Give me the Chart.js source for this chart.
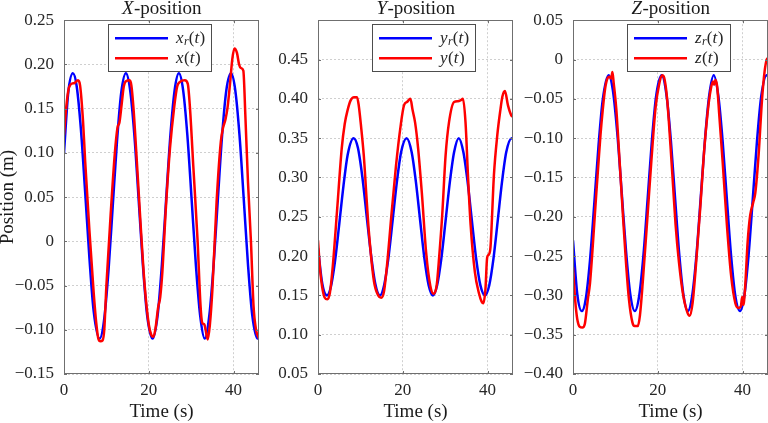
<!DOCTYPE html>
<html>
<head>
<meta charset="utf-8">
<script src="https://cdn.jsdelivr.net/npm/chart.js@4.4.1/dist/chart.umd.min.js"></script>
<style>
html,body{margin:0;padding:0;background:#fff;}
#wrap{position:relative;width:768px;height:423px;overflow:hidden;background:#fff;}
canvas{position:absolute;top:0;}
</style>
</head>
<body>
<div id="wrap">
<canvas id="c0" width="262" height="423" style="left:0px;width:262px;height:423px"></canvas>
<canvas id="c1" width="254" height="423" style="left:262px;width:254px;height:423px"></canvas>
<canvas id="c2" width="252" height="423" style="left:516px;width:252px;height:423px"></canvas>
</div>
<script>
// ---------- DATA ----------
// time axis ticks
const xTicks = [0, 20, 40];
const xTickLabels = ['0', '20', '40'];

// y ticks per subplot
const yTicksX = [-0.15, -0.10, -0.05, 0, 0.05, 0.10, 0.15, 0.20, 0.25];
const yTickLabelsX = ['\u22120.15', '\u22120.10', '\u22120.05', '0', '0.05', '0.10', '0.15', '0.20', '0.25'];
const yTicksY = [0.05, 0.10, 0.15, 0.20, 0.25, 0.30, 0.35, 0.40, 0.45];
const yTickLabelsY = ['0.05', '0.10', '0.15', '0.20', '0.25', '0.30', '0.35', '0.40', '0.45'];
const yTicksZ = [-0.40, -0.35, -0.30, -0.25, -0.20, -0.15, -0.10, -0.05, 0, 0.05];
const yTickLabelsZ = ['\u22120.40', '\u22120.35', '\u22120.30', '\u22120.25', '\u22120.20', '\u22120.15', '\u22120.10', '\u22120.05', '0', '0.05'];

// reference trajectories (blue)
const timeRef = [0,1,2.1,3,4,5,6,7,8.4,9.4,10.5,11.5,12.5,13.5,14.6,15.6,16.6,17.6,18.6,19.6,20.9,22.1,23.1,24.1,25.1,26.1,27.1,28.1,29.1,30.1,31.1,32.1,33.2,34.3,35.3,36.3,37.3,38.3,39.4,40.4,41.4,42.4,43.4,44.4,45.7,46];
const xRef = [0.100,0.168,0.190,0.175,0.126,0.055,-0.019,-0.079,-0.110,-0.091,-0.033,0.040,0.113,0.168,0.190,0.171,0.120,0.048,-0.026,-0.083,-0.110,-0.083,-0.026,0.048,0.120,0.171,0.190,0.171,0.120,0.048,-0.026,-0.083,-0.110,-0.083,-0.026,0.048,0.120,0.171,0.190,0.171,0.120,0.048,-0.026,-0.083,-0.110,-0.108];
const yRef = [0.210,0.165,0.150,0.160,0.193,0.240,0.289,0.329,0.350,0.338,0.299,0.250,0.202,0.165,0.150,0.163,0.197,0.245,0.294,0.332,0.350,0.332,0.294,0.245,0.197,0.163,0.150,0.163,0.197,0.245,0.294,0.332,0.350,0.332,0.294,0.245,0.197,0.163,0.150,0.163,0.197,0.245,0.294,0.332,0.350,0.349];
const zRef = [-0.230,-0.298,-0.320,-0.305,-0.256,-0.185,-0.111,-0.052,-0.020,-0.039,-0.097,-0.170,-0.243,-0.298,-0.320,-0.301,-0.250,-0.178,-0.104,-0.047,-0.020,-0.047,-0.104,-0.178,-0.250,-0.301,-0.320,-0.301,-0.250,-0.178,-0.104,-0.047,-0.020,-0.047,-0.104,-0.178,-0.250,-0.301,-0.320,-0.301,-0.250,-0.178,-0.104,-0.047,-0.020,-0.021];

// measured trajectories (red)
const xActT = [0,0.5,1,1.5,2.5,3.3,3.8,4.5,5,6,7,7.6,8.1,8.6,9.1,9.5,10,11,12,12.6,13.1,13.6,14.1,14.6,15.5,15.9,16.4,17,18,19,20,20.6,21.1,21.6,22.2,22.7,23.2,24,25,26,26.7,27.3,28.5,29.2,29.7,30.5,31.5,32.2,32.6,33.1,33.4,33.9,34.4,35,36,37,37.5,38.1,38.6,39.2,39.7,40.2,40.8,41.3,41.7,42.3,42.8,43.4,44.1,44.7,45.3,46];
const xActV = [0.120,0.150,0.170,0.177,0.179,0.182,0.176,0.135,0.090,0.012,-0.058,-0.092,-0.110,-0.113,-0.112,-0.100,-0.050,0.030,0.100,0.128,0.135,0.155,0.175,0.181,0.182,0.176,0.150,0.105,0.025,-0.048,-0.094,-0.106,-0.108,-0.098,-0.075,-0.063,-0.035,0.035,0.105,0.152,0.175,0.180,0.182,0.178,0.152,0.085,0.002,-0.072,-0.092,-0.094,-0.100,-0.111,-0.095,-0.055,0.045,0.113,0.128,0.138,0.152,0.180,0.206,0.218,0.213,0.200,0.196,0.193,0.140,0.067,0.000,-0.072,-0.100,-0.110];
const yActT = [0,0.5,1,1.6,2.2,2.8,3.5,4.5,5.6,6.3,7,7.7,8.5,9.2,9.6,10.1,10.8,11.5,12,13.2,14.2,14.9,15.6,16.4,17.2,18.4,19.5,20.3,21,21.8,22.3,22.9,23.6,24.5,25.5,26.5,27.3,28,28.6,29.3,30.1,30.9,32.1,33,33.6,34.2,34.8,35.4,36,37,38,38.6,39,39.5,39.9,40.3,40.7,41.5,42.3,43,43.5,44.1,44.8,45.6,46];
const yActV = [0.220,0.182,0.160,0.147,0.145,0.153,0.188,0.258,0.337,0.368,0.386,0.398,0.402,0.402,0.392,0.368,0.328,0.270,0.231,0.168,0.150,0.147,0.156,0.195,0.245,0.315,0.366,0.392,0.396,0.400,0.386,0.370,0.338,0.280,0.205,0.162,0.152,0.163,0.200,0.252,0.328,0.370,0.396,0.397,0.398,0.400,0.370,0.300,0.240,0.180,0.152,0.142,0.140,0.158,0.198,0.202,0.212,0.303,0.354,0.385,0.403,0.410,0.392,0.379,0.377];
const zActT = [0,0.5,1,1.6,2.2,2.8,3.5,4,4.5,5,5.5,6,6.5,7,7.5,8,8.6,9,9.3,9.6,10.2,11,11.8,12.5,13.2,14,14.5,15.3,15.8,16.5,17.5,18.5,19.5,20.3,21,21.5,22.2,23,23.6,24.2,25,26,27,27.5,28.2,29,30,31,32,32.6,33,33.3,33.6,34,34.5,35.3,36.3,37.3,38.3,39,39.6,39.9,40.2,40.6,41.2,41.8,42.5,43,43.8,44.6,45.2,45.7,46];
const zActV = [-0.264,-0.305,-0.330,-0.340,-0.341,-0.336,-0.305,-0.285,-0.250,-0.210,-0.170,-0.132,-0.095,-0.065,-0.040,-0.026,-0.022,-0.024,-0.016,-0.030,-0.062,-0.130,-0.200,-0.258,-0.305,-0.334,-0.339,-0.339,-0.325,-0.280,-0.205,-0.128,-0.060,-0.032,-0.020,-0.023,-0.050,-0.110,-0.160,-0.210,-0.258,-0.300,-0.322,-0.326,-0.310,-0.262,-0.190,-0.112,-0.056,-0.035,-0.028,-0.032,-0.026,-0.034,-0.070,-0.130,-0.210,-0.275,-0.310,-0.316,-0.314,-0.302,-0.312,-0.290,-0.232,-0.198,-0.182,-0.170,-0.120,-0.050,-0.015,0.000,0.002];

// texts
const titleVars = ['X', 'Y', 'Z'];
const titleRest = '-position';
const legendVars = ['x', 'y', 'z'];
const xAxisTitle = 'Time (s)';
const yAxisTitle = 'Position (m)';

// ---------- RENDERING ----------
const SERIF = '"Liberation Serif", "Times New Roman", Times, serif';
const BLUE = '#0000ff', RED = '#ff0000';
const FRAME = '#6f6f6f';
const TXT = '#262626';

function pts(t, v) { return t.map((tt, i) => ({ x: tt, y: v[i] })); }

function drawRich(ctx, parts, x, y, size, align) {
  const fontOf = p => (p.it ? 'italic ' : '') + (p.sub ? Math.round(size * 0.68) : size) + 'px ' + SERIF;
  const w = parts.map(p => { ctx.font = fontOf(p); return ctx.measureText(p.t).width; });
  const total = w.reduce((a, b) => a + b, 0);
  let cx = align === 'center' ? x - total / 2 : x;
  parts.forEach((p, i) => {
    ctx.font = fontOf(p);
    ctx.fillText(p.t, cx, y + (p.sub ? size * 0.22 : 0));
    cx += w[i] + (p.it && !p.sub ? 0.5 : 0);
  });
}

const deco = {
  id: 'deco',
  afterDatasetsDraw(chart, args, o) {
    const ctx = chart.ctx, a = chart.chartArea;
    ctx.save();
    // inward tick marks (box on)
    ctx.strokeStyle = FRAME; ctx.lineWidth = 1;
    const xs = chart.scales.x, ys = chart.scales.y;
    ctx.beginPath();
    o.yt.forEach(v => {
      const py = Math.round(ys.getPixelForValue(v)) + 0.5;
      ctx.moveTo(a.left, py); ctx.lineTo(a.left + 3, py);
      ctx.moveTo(a.right, py); ctx.lineTo(a.right - 3, py);
    });
    xTicks.forEach(v => {
      const px = Math.round(xs.getPixelForValue(v)) + 0.5;
      ctx.moveTo(px, a.bottom); ctx.lineTo(px, a.bottom - 3);
      ctx.moveTo(px, a.top); ctx.lineTo(px, a.top + 3);
    });
    ctx.stroke();
    // frame
    ctx.strokeRect(Math.round(a.left) + 0.5, Math.round(a.top) + 0.5, Math.round(a.right - a.left) - 1, Math.round(a.bottom - a.top) - 1);

    // legend
    const L = a.left + o.legLeft, T = a.top + 4, W = 103, H = 47;
    ctx.fillStyle = '#fff';
    ctx.fillRect(L, T, W, H);
    ctx.strokeStyle = '#4d4d4d';
    ctx.strokeRect(Math.round(L) + 0.5, Math.round(T) + 0.5, W, H);
    const rows = [
      { c: BLUE, y: T + 14, parts: [{ t: o.v, it: 1 }, { t: 'r', it: 1, sub: 1 }, { t: '(' }, { t: 't', it: 1 }, { t: ')' }] },
      { c: RED, y: T + 34, parts: [{ t: o.v, it: 1 }, { t: '(' }, { t: 't', it: 1 }, { t: ')' }] }
    ];
    rows.forEach(r => {
      ctx.strokeStyle = r.c; ctx.lineWidth = 2.5;
      ctx.beginPath(); ctx.moveTo(L + 7, r.y); ctx.lineTo(L + 60, r.y); ctx.stroke();
      ctx.fillStyle = TXT; ctx.textBaseline = 'middle'; ctx.textAlign = 'left';
      drawRich(ctx, r.parts, L + 68, r.y, 17, 'left');
    });

    // subplot title
    ctx.fillStyle = '#1a1a1a'; ctx.textBaseline = 'alphabetic'; ctx.textAlign = 'left';
    drawRich(ctx, [{ t: o.tv, it: 1 }, { t: titleRest }], (a.left + a.right) / 2, 14, 19, 'center');
    ctx.restore();
  }
};

const PANELS = [
  { id: 'c0', refV: xRef, actT: xActT, actV: xActV, yMin: -0.15, yMax: 0.25, yt: yTicksX, yl: yTickLabelsX, yw: 64, rp: 3, legLeft: 44, v: legendVars[0], tv: titleVars[0], ytitle: true },
  { id: 'c1', refV: yRef, actT: yActT, actV: yActV, yMin: 0.05, yMax: 0.50, yt: yTicksY, yl: yTickLabelsY, yw: 56, rp: 3, legLeft: 54, v: legendVars[1], tv: titleVars[1], ytitle: false },
  { id: 'c2', refV: zRef, actT: zActT, actV: zActV, yMin: -0.40, yMax: 0.05, yt: yTicksZ, yl: yTickLabelsZ, yw: 57, rp: 0, legLeft: 54, v: legendVars[2], tv: titleVars[2], ytitle: false }
];

PANELS.forEach(P => {
  new Chart(document.getElementById(P.id), {
    type: 'line',
    data: {
      datasets: [
        { label: P.v + 'r(t)', data: pts(timeRef, P.refV), borderColor: BLUE, borderWidth: 2.5, pointRadius: 0, cubicInterpolationMode: 'monotone', order: 2 },
        { label: P.v + '(t)', data: pts(P.actT, P.actV), borderColor: RED, borderWidth: 2.5, pointRadius: 0, cubicInterpolationMode: 'monotone', order: 1 }
      ]
    },
    plugins: [deco],
    options: {
      responsive: false,
      animation: false,
      events: [],
      layout: { padding: { top: 20, right: P.rp, left: 0, bottom: 0 } },
      plugins: {
        legend: { display: false },
        title: { display: false },
        tooltip: { enabled: false },
        deco: { yt: P.yt, legLeft: P.legLeft, v: P.v, tv: P.tv }
      },
      scales: {
        x: {
          type: 'linear', min: 0, max: 46,
          afterBuildTicks: s => { s.ticks = xTicks.map(v => ({ value: v })); },
          afterFit: s => { s.height = 49; },
          ticks: { callback: (v, i) => xTickLabels[i], padding: 6, maxRotation: 0, color: TXT, font: { family: SERIF, size: 17 } },
          grid: { color: '#cfcfcf', lineWidth: 1, drawTicks: false },
          border: { display: false, dash: [2, 2] },
          title: { display: true, text: xAxisTitle, color: '#1a1a1a', font: { family: SERIF, size: 19, lineHeight: 1 }, padding: { top: 0, bottom: 1 } }
        },
        y: {
          type: 'linear', min: P.yMin, max: P.yMax,
          afterBuildTicks: s => { s.ticks = P.yt.map(v => ({ value: v })); },
          afterFit: s => { s.width = P.yw; },
          ticks: { callback: (v, i) => P.yl[i], padding: 10, color: TXT, font: { family: SERIF, size: 17 } },
          grid: { color: '#cfcfcf', lineWidth: 1, drawTicks: false },
          border: { display: false, dash: [2, 2] },
          title: { display: P.ytitle, text: yAxisTitle, color: '#1a1a1a', font: { family: SERIF, size: 19, lineHeight: 1 }, padding: { top: -1.5, bottom: 0 } }
        }
      }
    }
  });
});
</script>
</body>
</html>
